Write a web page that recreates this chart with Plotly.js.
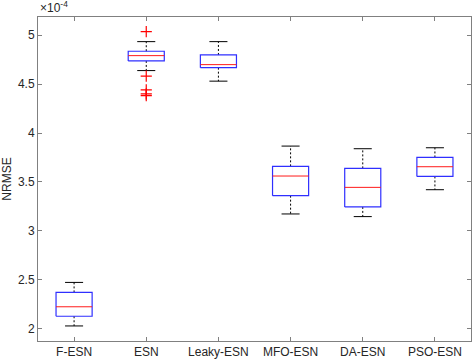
<!DOCTYPE html>
<html>
<head>
<meta charset="utf-8">
<script src="https://cdn.plot.ly/plotly-3.0.1.min.js"></script>
<style>html,body{margin:0;padding:0;background:#fff;}#chart{width:474px;height:361px;}</style>
</head>
<body>
<div id="chart"></div>
<script>
// Data (values in units of 1e-4)
const categories = ["F-ESN", "ESN", "Leaky-ESN", "MFO-ESN", "DA-ESN", "PSO-ESN"];
const lowerWhisker = [2.028, 4.639, 4.531, 3.173, 3.146, 3.421];
const q1Values     = [2.127, 4.738, 4.669, 3.360, 3.245, 3.557];
const medianValues = [2.224, 4.792, 4.700, 3.561, 3.445, 3.656];
const q3Values     = [2.371, 4.837, 4.799, 3.660, 3.639, 3.751];
const upperWhisker = [2.473, 4.935, 4.935, 3.867, 3.840, 3.850];
const outlierCategory = ["ESN", "ESN", "ESN", "ESN", "ESN"];
const outlierValues   = [5.037, 4.582, 4.442, 4.400, 4.384];

const boxHalf = 0.25, capHalf = 0.125;
const pos = categories.map((c, i) => i + 1);

const wx = [], wy = [], cx = [], cy = [], bx = [], by = [], mx = [], my = [];
categories.forEach((c, i) => {
  const p = pos[i];
  wx.push(p, p, null, p, p, null);
  wy.push(q3Values[i], upperWhisker[i], null, q1Values[i], lowerWhisker[i], null);
  cx.push(p - capHalf, p + capHalf, null, p - capHalf, p + capHalf, null);
  cy.push(upperWhisker[i], upperWhisker[i], null, lowerWhisker[i], lowerWhisker[i], null);
  bx.push(p - boxHalf, p + boxHalf, p + boxHalf, p - boxHalf, p - boxHalf, null);
  by.push(q1Values[i], q1Values[i], q3Values[i], q3Values[i], q1Values[i], null);
  mx.push(p - boxHalf, p + boxHalf, null);
  my.push(medianValues[i], medianValues[i], null);
});
const ox = outlierCategory.map(c => categories.indexOf(c) + 1);

const traces = [
  {x: wx, y: wy, mode: 'lines', line: {color: '#000', width: 1, dash: '2px,2px'}, hoverinfo: 'skip'},
  {x: cx, y: cy, mode: 'lines', line: {color: '#000', width: 1}, hoverinfo: 'skip'},
  {x: bx, y: by, mode: 'lines', line: {color: '#2f2fff', width: 1.2}, hoverinfo: 'skip'},
  {x: mx, y: my, mode: 'lines', line: {color: '#ff1a1a', width: 1}, hoverinfo: 'skip'},
  {x: ox, y: outlierValues, mode: 'markers', marker: {symbol: 'cross-thin-open', size: 8, color: '#ff0000', line: {color: '#ff0000', width: 1.2}}, hoverinfo: 'skip'}
];

const font = {family: 'Liberation Sans, Arial, sans-serif', size: 12, color: '#262626'};
const layout = {
  width: 474, height: 361,
  margin: {l: 38, r: 3, t: 17, b: 20},
  paper_bgcolor: '#fff', plot_bgcolor: '#fff',
  showlegend: false,
  font: font,
  xaxis: {
    range: [0.5, 6.5], tickvals: pos, ticktext: categories,
    ticks: 'inside', ticklen: 4, tickcolor: '#808080',
    showline: true, linecolor: '#808080', linewidth: 1, mirror: 'allticks',
    showgrid: false, zeroline: false, tickfont: font
  },
  yaxis: {
    range: [1.874, 5.187], tickvals: [2, 2.5, 3, 3.5, 4, 4.5, 5], ticktext: ['2', '2.5', '3', '3.5', '4', '4.5', '5'],
    ticks: 'inside', ticklen: 4, tickcolor: '#808080',
    showline: true, linecolor: '#808080', linewidth: 1, mirror: 'allticks',
    showgrid: false, zeroline: false, tickfont: font,
    title: {text: 'NRMSE', font: font, standoff: 4}
  },
  annotations: [{
    xref: 'paper', yref: 'paper', x: 0, y: 1, xanchor: 'left', yanchor: 'bottom',
    text: '×10<sup>-4</sup>', showarrow: false, font: {family: font.family, size: 12, color: '#262626'}
  }]
};
Plotly.newPlot('chart', traces, layout, {staticPlot: true, displayModeBar: false});
</script>
</body>
</html>
